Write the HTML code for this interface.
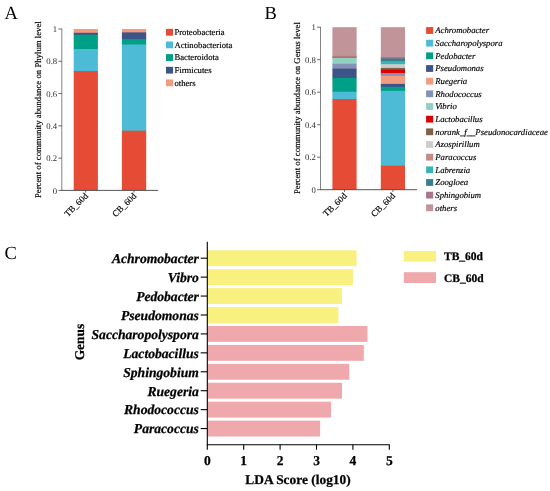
<!DOCTYPE html><html><head><meta charset="utf-8"><title>Figure</title>
<style>html,body{margin:0;padding:0;background:#fff}svg{display:block}text{font-family:"Liberation Serif","Times New Roman",serif;fill:#000;text-rendering:geometricPrecision}.s{font-size:8.7px;stroke:#000;stroke-width:.16px}.t{font-size:8.7px;fill:#2e2e2e}.i{font-style:italic}.b{font-weight:700;stroke:#000;stroke-width:.25px}</style></head><body>
<svg width="550" height="491" viewBox="0 0 550 491">
<rect width="550" height="491" fill="#fff"/>
<text x="4.6" y="18.7" style="font-size:18.5px">A</text>
<rect x="73.70" y="29.00" width="24.20" height="4.49" fill="#F39B7F"/>
<rect x="73.70" y="32.79" width="24.20" height="2.60" fill="#3C5488"/>
<rect x="73.70" y="34.70" width="24.20" height="15.02" fill="#00A087"/>
<rect x="73.70" y="49.01" width="24.20" height="22.73" fill="#4DBBD5"/>
<rect x="73.70" y="71.04" width="24.20" height="119.36" fill="#E64B35"/>
<rect x="121.90" y="29.00" width="24.30" height="4.09" fill="#F39B7F"/>
<rect x="121.90" y="32.39" width="24.30" height="7.48" fill="#3C5488"/>
<rect x="121.90" y="39.17" width="24.30" height="6.03" fill="#00A087"/>
<rect x="121.90" y="44.49" width="24.30" height="86.89" fill="#4DBBD5"/>
<rect x="121.90" y="130.68" width="24.30" height="59.72" fill="#E64B35"/>
<path d="M61.8 28.6V190.4" fill="none" stroke="#6e6e6e" stroke-width="0.85"/>
<path d="M61.4 190.4H158" fill="none" stroke="#444" stroke-width="0.9"/>
<path d="M58.4 190.40H61.8" stroke="#444" stroke-width="0.8"/>
<text class="t" x="57.199999999999996" y="193.55" text-anchor="end">0</text>
<path d="M58.4 158.12H61.8" stroke="#444" stroke-width="0.8"/>
<text class="t" x="57.199999999999996" y="161.27" text-anchor="end">0.2</text>
<path d="M58.4 125.84H61.8" stroke="#444" stroke-width="0.8"/>
<text class="t" x="57.199999999999996" y="128.99" text-anchor="end">0.4</text>
<path d="M58.4 93.56H61.8" stroke="#444" stroke-width="0.8"/>
<text class="t" x="57.199999999999996" y="96.71" text-anchor="end">0.6</text>
<path d="M58.4 61.28H61.8" stroke="#444" stroke-width="0.8"/>
<text class="t" x="57.199999999999996" y="64.43" text-anchor="end">0.8</text>
<path d="M58.4 29.00H61.8" stroke="#444" stroke-width="0.8"/>
<text class="t" x="57.199999999999996" y="32.15" text-anchor="end">1</text>
<path d="M85.7 190.4v2.2" stroke="#444" stroke-width="0.8"/>
<path d="M134.0 190.4v2.2" stroke="#444" stroke-width="0.8"/>
<text class="s" transform="translate(41.0 109.65) rotate(-90)" text-anchor="middle" style="font-size:8.76px">Percent of community abundance on Phylum level</text>
<text class="s" transform="translate(88.6 196.5) rotate(-45)" text-anchor="end" style="font-size:8.95px">TB_60d</text>
<text class="s" transform="translate(136.9 196.5) rotate(-45)" text-anchor="end" style="font-size:8.95px">CB_60d</text>
<rect x="166" y="28.85" width="7.1" height="6.8" fill="#E64B35"/>
<text class="s" x="174.4" y="35.05">Proteobacteria</text>
<rect x="166" y="41.50" width="7.1" height="6.8" fill="#4DBBD5"/>
<text class="s" x="174.4" y="47.70">Actinobacteriota</text>
<rect x="166" y="54.15" width="7.1" height="6.8" fill="#00A087"/>
<text class="s" x="174.4" y="60.35">Bacteroidota</text>
<rect x="166" y="66.80" width="7.1" height="6.8" fill="#3C5488"/>
<text class="s" x="174.4" y="73.00">Firmicutes</text>
<rect x="166" y="79.45" width="7.1" height="6.8" fill="#F39B7F"/>
<text class="s" x="174.4" y="85.65">others</text>
<text x="264.4" y="18.7" style="font-size:18.5px">B</text>
<rect x="332.40" y="27.20" width="24.20" height="29.30" fill="#C09499"/>
<rect x="332.40" y="55.80" width="24.20" height="1.68" fill="#B98580"/>
<rect x="332.40" y="56.78" width="24.20" height="1.67" fill="#9A6453"/>
<rect x="332.40" y="57.75" width="24.20" height="6.71" fill="#91D1C2"/>
<rect x="332.40" y="63.76" width="24.20" height="5.58" fill="#8491B4"/>
<rect x="332.40" y="68.64" width="24.20" height="9.96" fill="#3C5488"/>
<rect x="332.40" y="77.90" width="24.20" height="14.51" fill="#00A087"/>
<rect x="332.40" y="91.71" width="24.20" height="8.01" fill="#4DBBD5"/>
<rect x="332.40" y="99.02" width="24.20" height="90.68" fill="#E64B35"/>
<rect x="380.80" y="27.20" width="24.20" height="30.52" fill="#C09499"/>
<rect x="380.80" y="57.02" width="24.20" height="2.18" fill="#A8758D"/>
<rect x="380.80" y="58.50" width="24.20" height="3.40" fill="#35808F"/>
<rect x="380.80" y="61.19" width="24.20" height="3.71" fill="#3BB3B3"/>
<rect x="380.80" y="64.20" width="24.20" height="4.41" fill="#CCCCCC"/>
<rect x="380.80" y="67.91" width="24.20" height="2.49" fill="#7E6148"/>
<rect x="380.80" y="69.69" width="24.20" height="4.03" fill="#DC0000"/>
<rect x="380.80" y="73.02" width="24.20" height="3.46" fill="#8491B4"/>
<rect x="380.80" y="75.79" width="24.20" height="8.82" fill="#F39B7F"/>
<rect x="380.80" y="83.91" width="24.20" height="3.63" fill="#3C5488"/>
<rect x="380.80" y="86.84" width="24.20" height="4.76" fill="#00A087"/>
<rect x="380.80" y="90.90" width="24.20" height="75.45" fill="#4DBBD5"/>
<rect x="380.80" y="165.65" width="24.20" height="24.05" fill="#E64B35"/>
<path d="M320.5 26.8V189.7" fill="none" stroke="#6e6e6e" stroke-width="0.85"/>
<path d="M320.1 189.7H417.1" fill="none" stroke="#444" stroke-width="0.9"/>
<path d="M317.1 189.70H320.5" stroke="#444" stroke-width="0.8"/>
<text class="t" x="315.9" y="192.85" text-anchor="end">0</text>
<path d="M317.1 157.20H320.5" stroke="#444" stroke-width="0.8"/>
<text class="t" x="315.9" y="160.35" text-anchor="end">0.2</text>
<path d="M317.1 124.70H320.5" stroke="#444" stroke-width="0.8"/>
<text class="t" x="315.9" y="127.85" text-anchor="end">0.4</text>
<path d="M317.1 92.20H320.5" stroke="#444" stroke-width="0.8"/>
<text class="t" x="315.9" y="95.35" text-anchor="end">0.6</text>
<path d="M317.1 59.70H320.5" stroke="#444" stroke-width="0.8"/>
<text class="t" x="315.9" y="62.85" text-anchor="end">0.8</text>
<path d="M317.1 27.20H320.5" stroke="#444" stroke-width="0.8"/>
<text class="t" x="315.9" y="30.35" text-anchor="end">1</text>
<path d="M344.5 189.7v2.2" stroke="#444" stroke-width="0.8"/>
<path d="M392.9 189.7v2.2" stroke="#444" stroke-width="0.8"/>
<text class="s" transform="translate(299.6 108.1) rotate(-90)" text-anchor="middle" style="font-size:8.76px">Percent of community abundance on Genus level</text>
<text class="s" transform="translate(347.3 196.4) rotate(-45)" text-anchor="end" style="font-size:8.95px">TB_60d</text>
<text class="s" transform="translate(395.7 196.4) rotate(-45)" text-anchor="end" style="font-size:8.95px">CB_60d</text>
<rect x="426.1" y="27.10" width="7.1" height="6.8" fill="#E64B35"/>
<text class="s i" x="435.3" y="33.30">Achromobacter</text>
<rect x="426.1" y="39.77" width="7.1" height="6.8" fill="#4DBBD5"/>
<text class="s i" x="435.3" y="45.96">Saccharopolyspora</text>
<rect x="426.1" y="52.43" width="7.1" height="6.8" fill="#00A087"/>
<text class="s i" x="435.3" y="58.63">Pedobacter</text>
<rect x="426.1" y="65.09" width="7.1" height="6.8" fill="#3C5488"/>
<text class="s i" x="435.3" y="71.30">Pseudomonas</text>
<rect x="426.1" y="77.76" width="7.1" height="6.8" fill="#F39B7F"/>
<text class="s i" x="435.3" y="83.96">Ruegeria</text>
<rect x="426.1" y="90.42" width="7.1" height="6.8" fill="#8491B4"/>
<text class="s i" x="435.3" y="96.62">Rhodococcus</text>
<rect x="426.1" y="103.09" width="7.1" height="6.8" fill="#91D1C2"/>
<text class="s i" x="435.3" y="109.29">Vibrio</text>
<rect x="426.1" y="115.75" width="7.1" height="6.8" fill="#DC0000"/>
<text class="s i" x="435.3" y="121.95">Lactobacillus</text>
<rect x="426.1" y="128.42" width="7.1" height="6.8" fill="#7E6148"/>
<text class="s i" x="435.3" y="134.62">norank_f__Pseudonocardiaceae</text>
<rect x="426.1" y="141.08" width="7.1" height="6.8" fill="#CCCCCC"/>
<text class="s i" x="435.3" y="147.28">Azospirillum</text>
<rect x="426.1" y="153.75" width="7.1" height="6.8" fill="#C58B87"/>
<text class="s i" x="435.3" y="159.95">Paracoccus</text>
<rect x="426.1" y="166.41" width="7.1" height="6.8" fill="#3BB3B3"/>
<text class="s i" x="435.3" y="172.62">Labrenzia</text>
<rect x="426.1" y="179.08" width="7.1" height="6.8" fill="#35808F"/>
<text class="s i" x="435.3" y="185.28">Zoogloea</text>
<rect x="426.1" y="191.74" width="7.1" height="6.8" fill="#A8758D"/>
<text class="s i" x="435.3" y="197.94">Sphingobium</text>
<rect x="426.1" y="204.41" width="7.1" height="6.8" fill="#C09499"/>
<text class="s i" x="435.3" y="210.61">others</text>
<text x="4.4" y="259.3" style="font-size:18.5px">C</text>
<rect x="207.3" y="250.25" width="149.24" height="15.9" fill="#F9F17F"/>
<path d="M200.70000000000002 258.20H207.3" stroke="#000" stroke-width="1.1"/>
<text class="b i" x="198.8" y="263.00" text-anchor="end" style="font-size:13.6px">Achromobacter</text>
<rect x="207.3" y="269.18" width="145.60" height="15.9" fill="#F9F17F"/>
<path d="M200.70000000000002 277.13H207.3" stroke="#000" stroke-width="1.1"/>
<text class="b i" x="198.8" y="281.93" text-anchor="end" style="font-size:13.6px">Vibro</text>
<rect x="207.3" y="288.11" width="134.68" height="15.9" fill="#F9F17F"/>
<path d="M200.70000000000002 296.06H207.3" stroke="#000" stroke-width="1.1"/>
<text class="b i" x="198.8" y="300.86" text-anchor="end" style="font-size:13.6px">Pedobacter</text>
<rect x="207.3" y="307.04" width="131.04" height="15.9" fill="#F9F17F"/>
<path d="M200.70000000000002 314.99H207.3" stroke="#000" stroke-width="1.1"/>
<text class="b i" x="198.8" y="319.79" text-anchor="end" style="font-size:13.6px">Pseudomonas</text>
<rect x="207.3" y="325.97" width="160.16" height="15.9" fill="#EFA9AD"/>
<path d="M200.70000000000002 333.92H207.3" stroke="#000" stroke-width="1.1"/>
<text class="b i" x="198.8" y="338.72" text-anchor="end" style="font-size:13.6px">Saccharopolyspora</text>
<rect x="207.3" y="344.90" width="156.52" height="15.9" fill="#EFA9AD"/>
<path d="M200.70000000000002 352.85H207.3" stroke="#000" stroke-width="1.1"/>
<text class="b i" x="198.8" y="357.65" text-anchor="end" style="font-size:13.6px">Lactobacillus</text>
<rect x="207.3" y="363.83" width="141.96" height="15.9" fill="#EFA9AD"/>
<path d="M200.70000000000002 371.78H207.3" stroke="#000" stroke-width="1.1"/>
<text class="b i" x="198.8" y="376.58" text-anchor="end" style="font-size:13.6px">Sphingobium</text>
<rect x="207.3" y="382.76" width="134.68" height="15.9" fill="#EFA9AD"/>
<path d="M200.70000000000002 390.71H207.3" stroke="#000" stroke-width="1.1"/>
<text class="b i" x="198.8" y="395.51" text-anchor="end" style="font-size:13.6px">Ruegeria</text>
<rect x="207.3" y="401.69" width="123.76" height="15.9" fill="#EFA9AD"/>
<path d="M200.70000000000002 409.64H207.3" stroke="#000" stroke-width="1.1"/>
<text class="b i" x="198.8" y="414.44" text-anchor="end" style="font-size:13.6px">Rhodococcus</text>
<rect x="207.3" y="420.62" width="112.84" height="15.9" fill="#EFA9AD"/>
<path d="M200.70000000000002 428.57H207.3" stroke="#000" stroke-width="1.1"/>
<text class="b i" x="198.8" y="433.37" text-anchor="end" style="font-size:13.6px">Paracoccus</text>
<path d="M207.3 241.8V444.7H389.8" fill="none" stroke="#000" stroke-width="1.1"/>
<path d="M207.30 444.7v5" stroke="#000" stroke-width="1.1"/>
<text class="b" x="207.30" y="464.5" text-anchor="middle" style="font-size:13.5px">0</text>
<path d="M243.70 444.7v5" stroke="#000" stroke-width="1.1"/>
<text class="b" x="243.70" y="464.5" text-anchor="middle" style="font-size:13.5px">1</text>
<path d="M280.10 444.7v5" stroke="#000" stroke-width="1.1"/>
<text class="b" x="280.10" y="464.5" text-anchor="middle" style="font-size:13.5px">2</text>
<path d="M316.50 444.7v5" stroke="#000" stroke-width="1.1"/>
<text class="b" x="316.50" y="464.5" text-anchor="middle" style="font-size:13.5px">3</text>
<path d="M352.90 444.7v5" stroke="#000" stroke-width="1.1"/>
<text class="b" x="352.90" y="464.5" text-anchor="middle" style="font-size:13.5px">4</text>
<path d="M389.30 444.7v5" stroke="#000" stroke-width="1.1"/>
<text class="b" x="389.30" y="464.5" text-anchor="middle" style="font-size:13.5px">5</text>
<text class="b" x="298" y="483.6" text-anchor="middle" style="font-size:13.4px">LDA Score (log10)</text>
<text class="b" transform="translate(83.7 342.1) rotate(-90)" text-anchor="middle" style="font-size:13.4px">Genus</text>
<rect x="403.8" y="250.9" width="32.2" height="10.8" fill="#F9F17F"/>
<rect x="403.8" y="272.2" width="32.2" height="10.8" fill="#EFA9AD"/>
<text class="b" x="444" y="260.3" style="font-size:11.5px">TB_60d</text>
<text class="b" x="444" y="282" style="font-size:11.5px">CB_60d</text>
</svg></body></html>
